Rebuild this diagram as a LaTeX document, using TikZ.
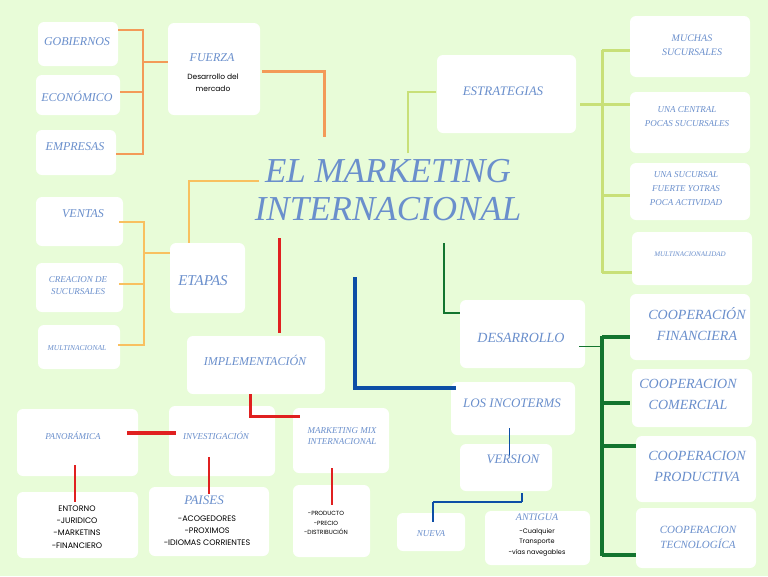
\documentclass[tikz,border=0pt]{standalone}
\usepackage{fontspec}
\setmainfont{Liberation Serif}
\newfontfamily\pop{Poppins}
\begin{document}
\begin{tikzpicture}[x=1pt,y=-1pt,
 bx/.style={fill=white,rounded corners=6pt,draw=none},
 lb/.style={text=tc,font=\itshape,align=center,inner sep=0pt},
 pl/.style={font=\pop,align=center,inner sep=0pt,text=black}]
\definecolor{bg}{HTML}{E8FCD8}\definecolor{tc}{HTML}{6A8FCC}
\definecolor{or}{HTML}{F39A58}\definecolor{lo}{HTML}{F8C060}
\definecolor{lg}{HTML}{C8E078}\definecolor{dg}{HTML}{13752F}
\definecolor{rd}{HTML}{E02020}\definecolor{bl}{HTML}{0D4EA6}
\fill[bg] (0,0) rectangle (768,576);
\newcommand\bxx[5]{\fill[bx] (#2,#3) rectangle (#4,#5); \coordinate (#1) at ({(#2+#4)/2},{(#3+#5)/2});}
% boxes
\bxx{gob}{38}{22}{118}{66}\bxx{eco}{36}{75}{120}{115}\bxx{emp}{36}{130}{116}{175}
\bxx{fue}{168}{23}{260}{115}
\bxx{ven}{36}{197}{123}{246}\bxx{cre}{36}{263}{123}{312}\bxx{mul}{38}{325}{120}{369}
\bxx{eta}{170}{243}{245}{313}
\bxx{imp}{187}{336}{325}{394}
\bxx{pan}{17}{409}{138}{476}\bxx{inv}{169}{406}{275}{476}\bxx{mix}{293}{408}{389}{473}
\bxx{ent}{17}{492}{138}{558}\bxx{pai}{149}{487}{269}{556}\bxx{pro}{293}{485}{370}{557}
\bxx{est}{437}{55}{576}{133}
\bxx{muc}{630}{16}{750}{77}\bxx{cen}{630}{92}{750}{153}\bxx{suc}{630}{163}{750}{220}\bxx{mun}{632}{232}{752}{285}
\bxx{des}{460}{300}{585}{368}
\bxx{fin}{630}{294}{750}{360}\bxx{com}{632}{369}{752}{427}\bxx{prd}{636}{436}{756}{502}\bxx{tec}{636}{508}{756}{568}
\bxx{inc}{451}{382}{575}{435}\bxx{ver}{460}{444}{552}{491}
\bxx{nue}{397}{513}{465}{551}\bxx{ant}{485}{511}{590}{565}
% orange
\draw[or,line width=2.5pt] (118,30)--(143,30)--(143,154)--(116,154) (120,92)--(143,92) (143,62)--(168,62);
\draw[or,line width=3pt] (262,71)--(324,71)--(324,137);
% light orange
\draw[lo,line width=2.5pt] (259,181)--(189,181)--(189,243);
\draw[lo,line width=2.5pt] (119,222)--(144,222)--(144,345)--(118,345) (119,284)--(144,284) (144,253)--(170,253);
% red
\draw[rd,line width=3pt] (279,238)--(279,333);
\draw[rd,line width=3pt] (250,394)--(250,416)--(300,416);
\draw[rd,line width=4pt] (127,433)--(176,433);
\draw[rd,line width=1.5pt] (75,465)--(75,502) (209,457)--(209,494) (332,468)--(332,505);
% blue
\draw[bl,line width=3.5pt] (355,277)--(355,388)--(456,388);
\draw[bl,line width=1pt] (509,428)--(509,456);
\draw[bl,line width=1.5pt] (522,493)--(522,502) (433,502)--(522,502) (433,502)--(433,522);
% green
\draw[dg,line width=2.5pt] (444,243)--(444,313)--(460,313);
\draw[dg,line width=1pt] (579,346)--(600,346);
\draw[dg,line width=3.5pt] (602,336)--(602,556) (602,337)--(630,337) (602,403)--(630,403) (602,446)--(636,446) (602,555)--(636,555);
% light green
\draw[lg,line width=2.5pt] (408,153)--(408,92)--(436,92);
\draw[lg,line width=3pt] (580,104)--(630,104) (602,50)--(602,273) (602,50)--(630,50) (602,195)--(630,195) (602,272)--(632,272);
% texts
\node[lb,font=\itshape\fontsize{35}{38}\selectfont] (tit) at (388,190) {EL MARKETING\\INTERNACIONAL};
\node[lb,font=\itshape\fontsize{12}{13}\selectfont] at (77,42) {GOBIERNOS};
\node[lb,font=\itshape\fontsize{12}{13}\selectfont] at (77,96) {ECONÓMICO};
\node[lb,font=\itshape\fontsize{12}{13}\selectfont] at (75,147) {EMPRESAS};
\node[lb,font=\itshape\fontsize{12}{13}\selectfont] at (212,58) {FUERZA};
\node[pl,font=\pop\fontsize{7.5}{12}\selectfont] at (213,83) {Desarrollo del\\mercado};
\node[lb,font=\itshape\fontsize{12}{13}\selectfont] at (83,214) {VENTAS};
\node[lb,font=\itshape\fontsize{9}{12}\selectfont] at (78,286) {CREACION DE\\SUCURSALES};
\node[lb,font=\itshape\fontsize{7.5}{9}\selectfont] at (77,348) {MULTINACIONAL};
\node[lb,font=\itshape\fontsize{15}{16}\selectfont] at (203,281) {ETAPAS};
\node[lb,font=\itshape\fontsize{12}{13}\selectfont] at (255,360) {IMPLEMENTACIÓN};
\node[lb,font=\itshape\fontsize{9}{10}\selectfont] at (73,436) {PANORÁMICA};
\node[lb,font=\itshape\fontsize{9}{10}\selectfont] at (216,436) {INVESTIGACIÓN};
\node[lb,font=\itshape\fontsize{9}{11}\selectfont] at (342,436) {MARKETING MIX\\INTERNACIONAL};
\node[pl,font=\pop\fontsize{8}{12.3}\selectfont] at (77,527) {ENTORNO\\-JURIDICO\\-MARKETINS\\-FINANCIERO};
\node[lb,font=\itshape\fontsize{13}{14}\selectfont] at (204,500) {PAISES};
\node[pl,font=\pop\fontsize{8}{12}\selectfont] at (207,531) {-ACOGEDORES\\-PROXIMOS\\-IDIOMAS CORRIENTES};
\node[pl,font=\pop\fontsize{6}{9.5}\selectfont] at (326,523) {-PRODUCTO\\-PRECIO\\-DISTRIBUCIÓN};
\node[lb,font=\itshape\fontsize{13}{14}\selectfont] at (503,91) {ESTRATEGIAS};
\node[lb,font=\itshape\fontsize{10}{14}\selectfont] at (692,45) {MUCHAS\\SUCURSALES};
\node[lb,font=\itshape\fontsize{9}{14}\selectfont] at (687,117) {UNA CENTRAL\\POCAS SUCURSALES};
\node[lb,font=\itshape\fontsize{9}{14}\selectfont] at (686,189) {UNA SUCURSAL\\FUERTE YOTRAS\\POCA ACTIVIDAD};
\node[lb,font=\itshape\fontsize{7}{9}\selectfont] at (690,254) {MULTINACIONALIDAD};
\node[lb,font=\itshape\fontsize{14}{15}\selectfont] at (521,338) {DESARROLLO};
\node[lb,font=\itshape\fontsize{14}{21}\selectfont] at (697,324) {COOPERACIÓN\\FINANCIERA};
\node[lb,font=\itshape\fontsize{14}{21}\selectfont] at (688,394) {COOPERACION\\COMERCIAL};
\node[lb,font=\itshape\fontsize{14}{21}\selectfont] at (697,466) {COOPERACION\\PRODUCTIVA};
\node[lb,font=\itshape\fontsize{11}{15}\selectfont] at (698,537) {COOPERACION\\TECNOLOGÍCA};
\node[lb,font=\itshape\fontsize{13}{14}\selectfont] at (512,403) {LOS INCOTERMS};
\node[lb,font=\itshape\fontsize{13}{14}\selectfont] at (513,459) {VERSION};
\node[lb,font=\itshape\fontsize{9}{10}\selectfont] at (431,534) {NUEVA};
\node[lb,font=\itshape\fontsize{10}{10}\selectfont] at (537,517) {ANTIGUA};
\node[pl,font=\pop\fontsize{6.5}{10.5}\selectfont] at (537,542) {-Cualquier\\Transporte\\-vías navegables};
\end{tikzpicture}
\end{document}
